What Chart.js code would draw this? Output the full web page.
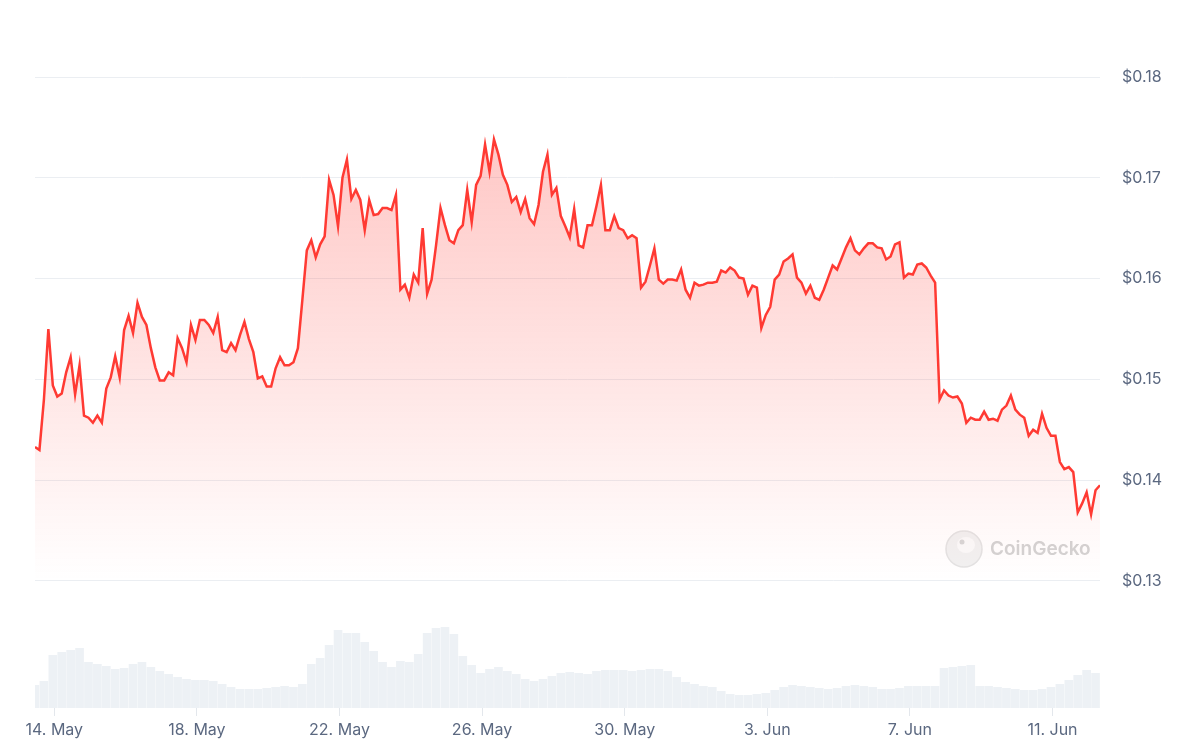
<!DOCTYPE html>
<html>
<head>
<meta charset="utf-8">
<title>Price chart</title>
<script src="https://cdn.jsdelivr.net/npm/chart.js@4.4.1/dist/chart.umd.min.js"></script>
<style>
  html, body { margin: 0; padding: 0; background: #fff; }
  #wrap { width: 1200px; height: 752px; }
</style>
</head>
<body>
<div id="wrap"><canvas id="priceChart" width="1200" height="752"></canvas></div>
<script>
// time: hours counted from 14 May 00:00
const firstHour = -13;
const priceStepHours = 3;
const volumeStepHours = 6;

// price in USD, every 3 hours
const price = [
  0.1433, 0.1430, 0.1480, 0.1550, 0.1494, 0.1483, 0.1486, 0.1507, 0.1522, 0.1485,
  0.1514, 0.1464, 0.1462, 0.1457, 0.1464, 0.1457, 0.1491, 0.1502, 0.1523, 0.1502,
  0.1549, 0.1563, 0.1546, 0.1576, 0.1562, 0.1554, 0.1531, 0.1512, 0.1499, 0.1499,
  0.1507, 0.1504, 0.1541, 0.1531, 0.1517, 0.1554, 0.1539, 0.1559, 0.1559, 0.1554,
  0.1546, 0.1562, 0.1529, 0.1527, 0.1536, 0.1529, 0.1544, 0.1557, 0.1540, 0.1527,
  0.1501, 0.1503, 0.1493, 0.1493, 0.1511, 0.1522, 0.1514, 0.1514, 0.1517, 0.1531,
  0.1579, 0.1628, 0.1638, 0.1621, 0.1634, 0.1642, 0.1698, 0.1683, 0.1652, 0.1700,
  0.1718, 0.1679, 0.1688, 0.1678, 0.1648, 0.1678, 0.1663, 0.1664, 0.1670, 0.1670,
  0.1668, 0.1683, 0.1589, 0.1594, 0.1581, 0.1604, 0.1596, 0.1650, 0.1585, 0.1599,
  0.1633, 0.1670, 0.1653, 0.1638, 0.1635, 0.1648, 0.1653, 0.1688, 0.1656, 0.1693,
  0.1702, 0.1733, 0.1706, 0.1738, 0.1723, 0.1703, 0.1693, 0.1676, 0.1681, 0.1666,
  0.1679, 0.1660, 0.1654, 0.1673, 0.1706, 0.1723, 0.1683, 0.1690, 0.1662, 0.1652,
  0.1641, 0.1669, 0.1633, 0.1631, 0.1653, 0.1653, 0.1672, 0.1693, 0.1648, 0.1648,
  0.1662, 0.1650, 0.1648, 0.1640, 0.1643, 0.1640, 0.1591, 0.1597, 0.1613, 0.1630,
  0.1599, 0.1595, 0.1599, 0.1599, 0.1598, 0.1609, 0.1589, 0.1581, 0.1596, 0.1593,
  0.1594, 0.1596, 0.1596, 0.1597, 0.1608, 0.1606, 0.1611, 0.1608, 0.1601, 0.1600,
  0.1584, 0.1593, 0.1591, 0.1551, 0.1564, 0.1572, 0.1599, 0.1604, 0.1617, 0.1620,
  0.1624, 0.1601, 0.1596, 0.1585, 0.1593, 0.1581, 0.1579, 0.1589, 0.1601, 0.1613,
  0.1609, 0.1620, 0.1631, 0.1640, 0.1628, 0.1624, 0.1630, 0.1635, 0.1635, 0.1631,
  0.1630, 0.1619, 0.1622, 0.1634, 0.1636, 0.1601, 0.1605, 0.1604, 0.1614, 0.1615,
  0.1611, 0.1603, 0.1596, 0.1480, 0.1489, 0.1484, 0.1482, 0.1483, 0.1476, 0.1457,
  0.1462, 0.1460, 0.1460, 0.1468, 0.1460, 0.1461, 0.1459, 0.1470, 0.1474, 0.1484,
  0.1470, 0.1465, 0.1462, 0.1444, 0.1450, 0.1447, 0.1466, 0.1452, 0.1444, 0.1444,
  0.1418, 0.1411, 0.1413, 0.1408, 0.1368, 0.1377, 0.1388, 0.1366, 0.1390, 0.1395
];

// volume in million USD, every 6 hours
const volume = [
  2.3, 2.7, 5.3, 5.6, 5.8, 6.0, 4.6, 4.4, 4.2, 3.9,
  4.0, 4.4, 4.6, 4.1, 3.7, 3.4, 3.1, 2.9, 2.8, 2.8,
  2.7, 2.4, 2.1, 1.9, 1.9, 1.9, 2.0, 2.1, 2.2, 2.1,
  2.4, 4.4, 5.0, 6.3, 7.8, 7.5, 7.5, 6.6, 5.7, 4.6,
  4.1, 4.7, 4.6, 5.4, 7.5, 8.0, 8.1, 7.4, 5.2, 4.3,
  3.5, 3.9, 4.1, 3.7, 3.4, 2.9, 2.7, 2.9, 3.2, 3.5,
  3.6, 3.5, 3.4, 3.7, 3.8, 3.8, 3.8, 3.7, 3.8, 3.9,
  3.9, 3.7, 3.1, 2.6, 2.4, 2.2, 2.1, 1.7, 1.4, 1.3,
  1.3, 1.4, 1.5, 1.8, 2.1, 2.3, 2.2, 2.1, 2.0, 1.9,
  2.0, 2.2, 2.3, 2.2, 2.1, 1.9, 1.9, 2.0, 2.2, 2.2,
  2.2, 2.2, 4.0, 4.1, 4.2, 4.3, 2.2, 2.2, 2.1, 2.0,
  1.9, 1.8, 1.8, 1.9, 2.1, 2.4, 2.8, 3.3, 3.8, 3.5
];

// one label every 4 days, starting at 14 May
const dateLabels = ["14. May", "18. May", "22. May", "26. May", "30. May", "3. Jun", "7. Jun", "11. Jun"];

const priceLow = 0.13; // bottom of the price area

const pricePoints = price.map((v, i) => ({ x: (firstHour + i * priceStepHours) / 24, y: v }));
const volumePoints = volume.map((v, i) => ({ x: (firstHour + i * volumeStepHours) / 24, y: v }));

const labelColor = "#5b6880";
const red = "#ff3a33";

const watermark = {
    id: "watermark",
    beforeDatasetsDraw(chart) {
        const c = chart.ctx;
        c.save();
        c.beginPath();
        c.arc(964, 549, 18, 0, Math.PI * 2);
        c.fillStyle = "#f1f1f1";
        c.fill();
        c.strokeStyle = "#e3e3e3";
        c.lineWidth = 1.5;
        c.stroke();
        c.beginPath();
        c.ellipse(966, 545, 9, 8, 0, 0, Math.PI * 2);
        c.fillStyle = "#fafafa";
        c.fill();
        c.beginPath();
        c.arc(962, 542, 2.5, 0, Math.PI * 2);
        c.fillStyle = "#d6d6d6";
        c.fill();
        c.font = "600 19px Inter, 'Noto Sans', sans-serif";
        c.fillStyle = "#d3d3d3";
        c.textBaseline = "middle";
        c.fillText("CoinGecko", 990, 549);
        c.restore();
    }
};

const priceChart = new Chart(document.getElementById("priceChart"), {
    type: "line",
    data: {
        datasets: [
            {
                type: "line",
                label: "Price",
                data: pricePoints,
                yAxisID: "y",
                borderColor: red,
                borderWidth: 2.5,
                pointRadius: 0,
                tension: 0,
                fill: { value: priceLow },
                backgroundColor: (ctx) => {
                    const chart = ctx.chart;
                    const area = chart.chartArea;
                    if (!area) return "rgba(255,58,51,0.1)";
                    const bottom = chart.scales.y.getPixelForValue(priceLow);
                    const g = chart.ctx.createLinearGradient(0, area.top, 0, bottom);
                    g.addColorStop(0, "rgba(255,58,51,0.32)");
                    g.addColorStop(1, "rgba(255,58,51,0.0)");
                    return g;
                },
                order: 1
            },
            {
                type: "bar",
                label: "Volume",
                data: volumePoints,
                yAxisID: "yv",
                backgroundColor: "#edf1f5",
                barPercentage: 0.97,
                categoryPercentage: 1.0,
                order: 2
            }
        ]
    },
    options: {
        responsive: false,
        animation: false,
        layout: { padding: { top: 77, left: 35, right: 0, bottom: 0 } },
        plugins: { legend: { display: false }, tooltip: { enabled: false } },
        scales: {
            x: {
                type: "linear",
                offset: false,
                min: pricePoints[0].x,
                max: pricePoints[pricePoints.length - 1].x,
                border: { display: false },
                grid: { offset: false, drawOnChartArea: false, drawTicks: true, tickLength: 8, color: "#e3e7ec" },
                ticks: {
                    stepSize: 4,
                    includeBounds: false,
                    autoSkip: false,
                    maxRotation: 0,
                    padding: 5,
                    color: labelColor,
                    font: { family: "Inter", size: 16 },
                    callback: (v) => dateLabels[Math.round(v / 4)] ?? ""
                },
                afterFit: (s) => { s.height = 44; }
            },
            y: {
                position: "right",
                min: 0.1174,
                max: 0.18,
                border: { display: false },
                grid: {
                    drawTicks: false,
                    color: (ctx) => (ctx.tick && ctx.tick.value < 0.125 ? "rgba(0,0,0,0)" : "#ebeef2")
                },
                ticks: {
                    stepSize: 0.01,
                    includeBounds: false,
                    padding: 22,
                    color: labelColor,
                    font: { family: "Inter", size: 16 },
                    callback: (v) => (v < 0.125 ? "" : "$" + v.toFixed(2))
                },
                afterFit: (s) => { s.width = 100; }
            },
            yv: {
                display: false,
                min: 0,
                max: 63.1
            }
        }
    },
    plugins: [watermark]
});
</script>
</body>
</html>
